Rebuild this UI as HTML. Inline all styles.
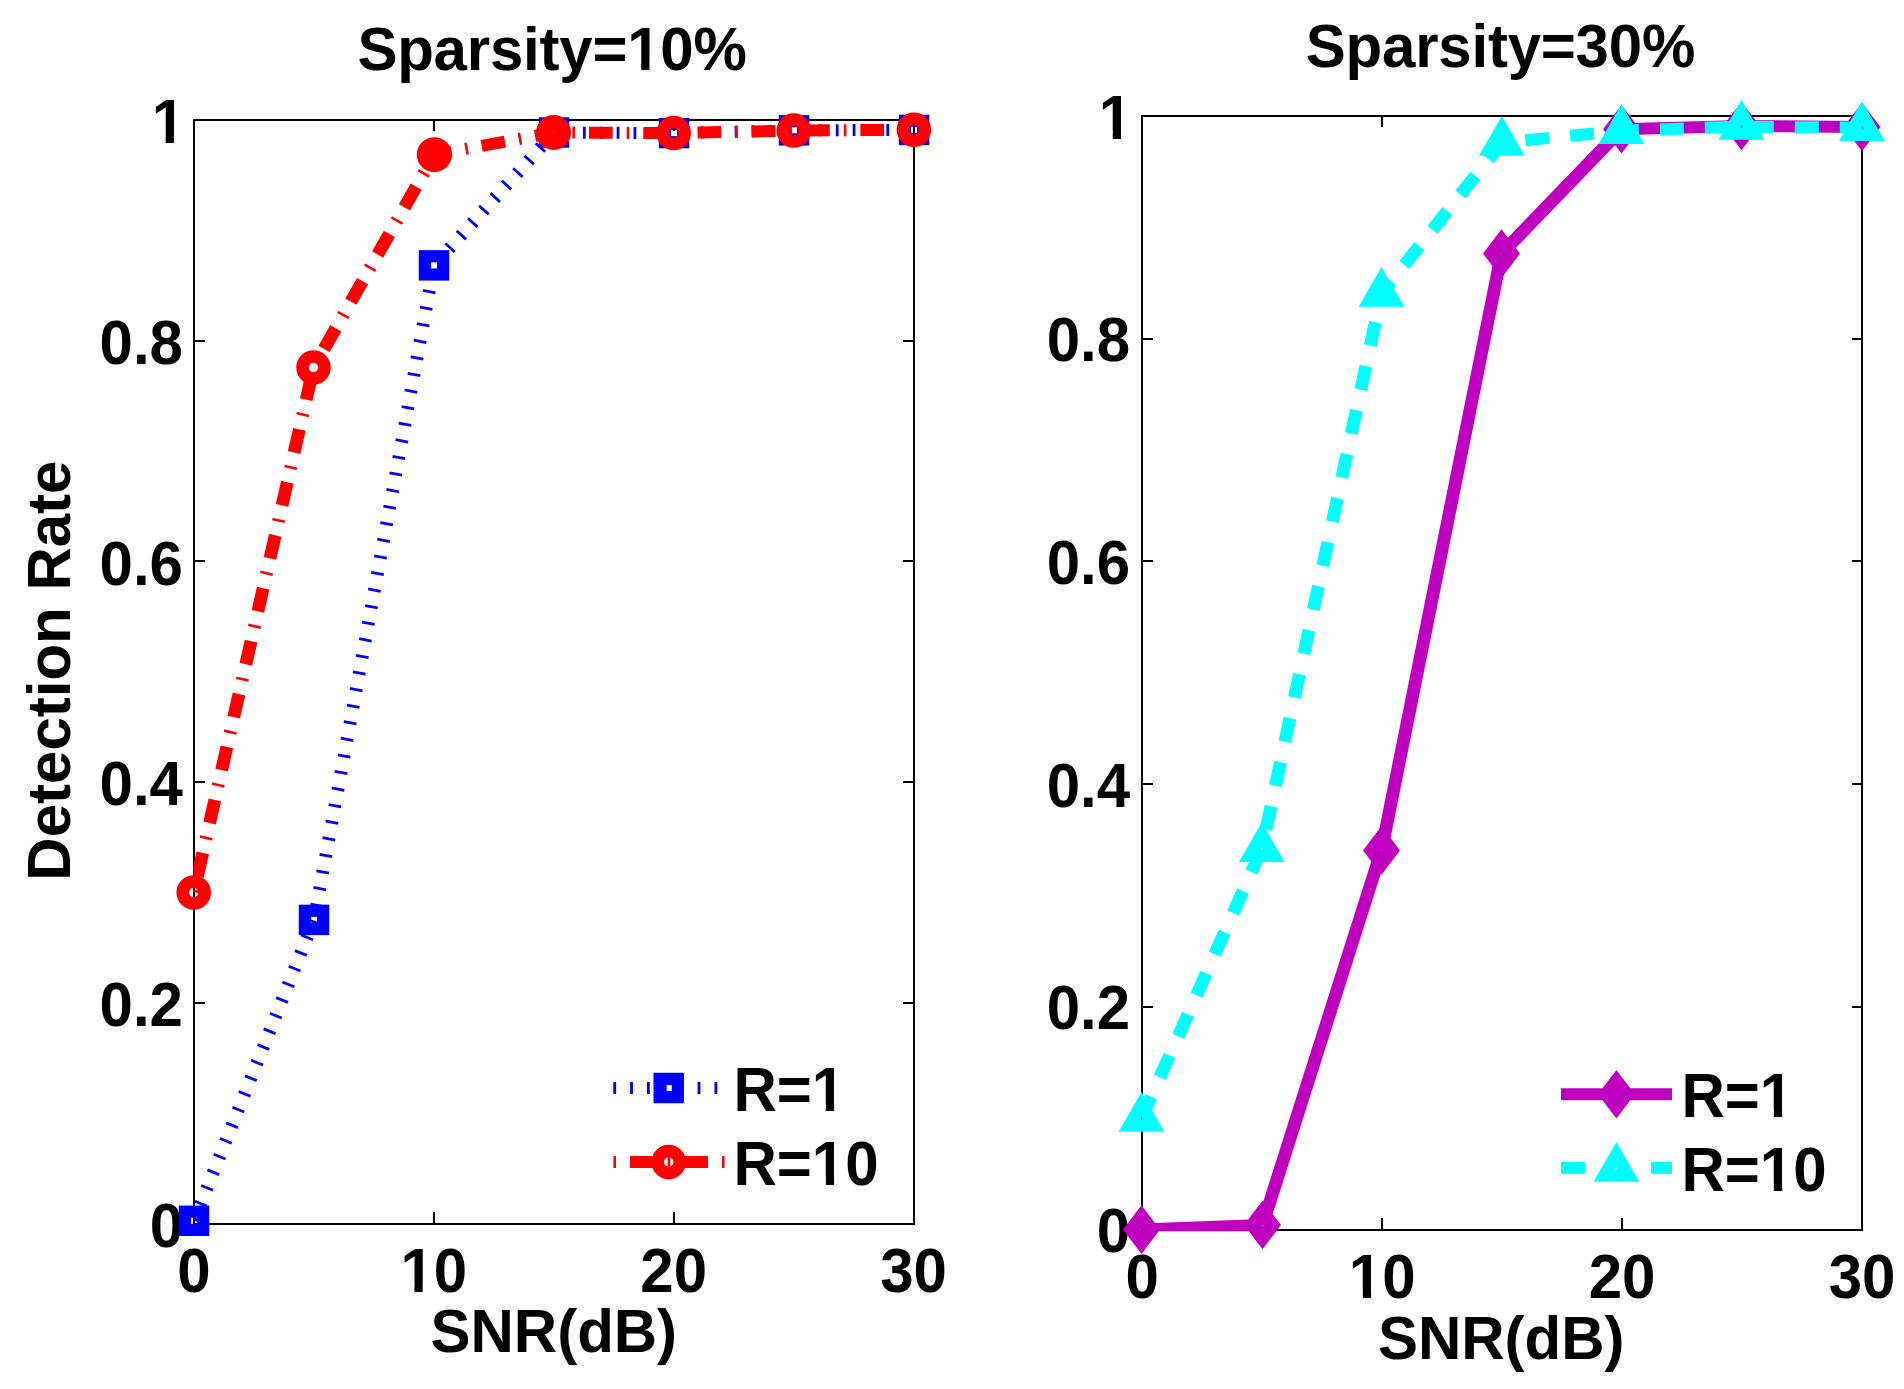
<!DOCTYPE html>
<html lang="en"><head><meta charset="utf-8"><title>Detection Rate vs SNR</title>
<style>
html,body{margin:0;padding:0;background:#fff;}
body{width:1904px;height:1389px;overflow:hidden;}
svg{display:block;}
text{font-kerning:none;font-family:"Liberation Sans",Arial,Helvetica,sans-serif;font-weight:bold;font-size:60px;fill:#000;}
.ax{stroke:#000;stroke-width:2;fill:none;shape-rendering:crispEdges;}
.ln{fill:none;stroke-linecap:butt;}
.mk{fill:none;stroke-width:12.5;stroke-linejoin:miter;}
</style></head><body>
<svg width="1904" height="1389" viewBox="0 0 1904 1389">
<rect x="0" y="0" width="1904" height="1389" fill="#ffffff"/>
<defs><clipPath id="cl"><rect x="193.5" y="118.8" width="721.5" height="1105.7"/></clipPath><clipPath id="cr"><rect x="1141.8" y="115" width="721.7" height="1116.2"/></clipPath></defs>
<g id="left">
<g class="ax">
<rect x="194.0" y="119.8" width="719.5" height="1103.7"/>
<line x1="433.8" y1="1223.5" x2="433.8" y2="1212.1"/>
<line x1="433.8" y1="119.8" x2="433.8" y2="131.2"/>
<line x1="673.7" y1="1223.5" x2="673.7" y2="1212.1"/>
<line x1="673.7" y1="119.8" x2="673.7" y2="131.2"/>
<line x1="194.0" y1="1002.8" x2="204.5" y2="1002.8"/>
<line x1="913.5" y1="1002.8" x2="903.0" y2="1002.8"/>
<line x1="194.0" y1="782.0" x2="204.5" y2="782.0"/>
<line x1="913.5" y1="782.0" x2="903.0" y2="782.0"/>
<line x1="194.0" y1="561.3" x2="204.5" y2="561.3"/>
<line x1="913.5" y1="561.3" x2="903.0" y2="561.3"/>
<line x1="194.0" y1="340.5" x2="204.5" y2="340.5"/>
<line x1="913.5" y1="340.5" x2="903.0" y2="340.5"/>
</g>
<g transform="translate(194.0 1291.9) scale(1 1.04)"><text text-anchor="middle">0</text></g>
<g transform="translate(433.8 1291.9) scale(1 1.04)"><text text-anchor="middle">10</text><rect x="-30.77" y="-7.3" width="11.40" height="8.1" fill="#fff"/><rect x="-11.13" y="-7.3" width="10.76" height="8.1" fill="#fff"/></g>
<g transform="translate(673.7 1291.9) scale(1 1.04)"><text text-anchor="middle">20</text></g>
<g transform="translate(913.5 1291.9) scale(1 1.04)"><text text-anchor="middle">30</text></g>
<g transform="translate(183.0 1246.9) scale(1 1.04)"><text text-anchor="end">0</text></g>
<g transform="translate(183.0 1026.2) scale(1 1.04)"><text text-anchor="end">0.2</text></g>
<g transform="translate(183.0 805.4) scale(1 1.04)"><text text-anchor="end">0.4</text></g>
<g transform="translate(183.0 584.7) scale(1 1.04)"><text text-anchor="end">0.6</text></g>
<g transform="translate(183.0 363.9) scale(1 1.04)"><text text-anchor="end">0.8</text></g>
<g transform="translate(185.0 143.2) scale(1 1.04)"><text text-anchor="end">1</text><rect x="-30.77" y="-7.3" width="11.40" height="8.1" fill="#fff"/><rect x="-11.13" y="-7.3" width="10.76" height="8.1" fill="#fff"/></g>
<g transform="translate(552.0 70.4) scale(1 1.01)"><text text-anchor="middle" style="letter-spacing:-0.22px">Sparsity=10%</text><rect x="77.80" y="-7.3" width="11.40" height="8.1" fill="#fff"/><rect x="97.44" y="-7.3" width="10.76" height="8.1" fill="#fff"/></g>
<g transform="translate(553.8 1352.0) scale(1 1.02)"><text text-anchor="middle">SNR(dB)</text></g>
<g transform="translate(70.0 670.6) rotate(-90) scale(1 1.01)"><text text-anchor="middle">Detection Rate</text></g>
<g class="ln" stroke="#0000ff" clip-path="url(#cl)">
<line x1="194.0" y1="1220.8" x2="314.0" y2="919.9" stroke-width="12.8" stroke-dasharray="2.8 14.06" stroke-dashoffset="16.56"/>
<line x1="314.0" y1="919.9" x2="434.0" y2="265.4" stroke-width="12.8" stroke-dasharray="2.8 14.06" stroke-dashoffset="340.51"/>
<line x1="434.0" y1="265.4" x2="554.0" y2="132.5" stroke-width="12.8" stroke-dasharray="2.8 14.06" stroke-dashoffset="1005.92"/>
<line x1="554.0" y1="132.5" x2="674.0" y2="133.1" stroke-width="12.0" stroke-dasharray="2.8 14.06" stroke-dashoffset="1184.98"/>
<line x1="674.0" y1="133.1" x2="794.0" y2="130.3" stroke-width="12.0" stroke-dasharray="2.8 14.06" stroke-dashoffset="1304.98"/>
<line x1="794.0" y1="130.3" x2="914.0" y2="129.9" stroke-width="12.0" stroke-dasharray="2.8 14.06" stroke-dashoffset="1425.01"/>
</g>
<rect class="mk" x="184.88" y="1211.67" width="18.25" height="18.25" stroke="#0000ff" style="stroke-width:12.2"/>
<rect class="mk" x="304.88" y="910.77" width="18.25" height="18.25" stroke="#0000ff" style="stroke-width:12.2"/>
<rect class="mk" x="424.88" y="256.27" width="18.25" height="18.25" stroke="#0000ff" style="stroke-width:12.2"/>
<rect class="mk" x="544.88" y="123.38" width="18.25" height="18.25" stroke="#0000ff" style="stroke-width:12.2"/>
<rect class="mk" x="664.88" y="123.97" width="18.25" height="18.25" stroke="#0000ff" style="stroke-width:12.2"/>
<rect class="mk" x="784.88" y="121.18" width="18.25" height="18.25" stroke="#0000ff" style="stroke-width:12.2"/>
<rect class="mk" x="904.88" y="120.78" width="18.25" height="18.25" stroke="#0000ff" style="stroke-width:12.2"/>
<g class="ln" stroke="#ff0000" clip-path="url(#cl)">
<line x1="193.7" y1="892.5" x2="313.5" y2="367.5" stroke-width="12.8" stroke-dasharray="2.6 13.97 23.75 13.97" stroke-dashoffset="53.89"/>
<line x1="313.5" y1="367.5" x2="434.3" y2="154.7" stroke-width="12.8" stroke-dasharray="2.6 13.97 23.75 13.97" stroke-dashoffset="592.39"/>
<line x1="434.3" y1="154.7" x2="553.5" y2="132.5" stroke-width="12.0" stroke-dasharray="2.6 13.97 23.75 13.97" stroke-dashoffset="837.08"/>
<line x1="553.5" y1="132.5" x2="673.7" y2="133.1" stroke-width="12.0" stroke-dasharray="2.6 13.97 23.75 13.97" stroke-dashoffset="958.33"/>
<line x1="673.7" y1="133.1" x2="793.7" y2="130.6" stroke-width="12.0" stroke-dasharray="2.6 13.97 23.75 13.97" stroke-dashoffset="1078.53"/>
<line x1="793.7" y1="130.6" x2="913.9" y2="129.7" stroke-width="12.0" stroke-dasharray="2.6 13.97 23.75 13.97" stroke-dashoffset="1198.56"/>
</g>
<circle class="mk" cx="193.70" cy="892.50" r="11" stroke="#ff0000" style="stroke-width:12.5"/>
<circle class="mk" cx="313.50" cy="367.50" r="11" stroke="#ff0000" style="stroke-width:12.5"/>
<circle class="mk" cx="434.30" cy="154.70" r="9.25" stroke="#ff0000" style="stroke-width:16.5"/>
<circle class="mk" cx="553.50" cy="132.50" r="9.25" stroke="#ff0000" style="stroke-width:16.5"/>
<circle class="mk" cx="673.70" cy="133.10" r="11" stroke="#ff0000" style="stroke-width:12.5"/>
<circle class="mk" cx="793.70" cy="130.60" r="11" stroke="#ff0000" style="stroke-width:12.5"/>
<circle class="mk" cx="913.90" cy="129.70" r="11" stroke="#ff0000" style="stroke-width:12.5"/>
<g class="ln" stroke="#0000ff">
<line x1="613.0" y1="1088.0" x2="718.5" y2="1088.0" stroke-width="12.0" stroke-dasharray="2.8 14.06" stroke-dashoffset="16.56"/>
</g>
<rect class="mk" x="659.58" y="1078.88" width="18.25" height="18.25" stroke="#0000ff" style="stroke-width:12.2"/>
<g class="ln" stroke="#ff0000">
<line x1="613.0" y1="1162.0" x2="724.5" y2="1162.0" stroke-width="12.0" stroke-dasharray="2.6 13.97 23.75 13.97" stroke-dashoffset="53.89"/>
</g>
<circle class="mk" cx="668.70" cy="1162.00" r="11" stroke="#ff0000" style="stroke-width:12.5"/>
<g transform="translate(733.5 1111.0) scale(1 1.04)"><text>R=1</text><rect x="80.97" y="-7.3" width="11.40" height="8.1" fill="#fff"/><rect x="100.61" y="-7.3" width="10.76" height="8.1" fill="#fff"/></g>
<g transform="translate(733.5 1185.0) scale(1 1.04)"><text>R=10</text><rect x="80.97" y="-7.3" width="11.40" height="8.1" fill="#fff"/><rect x="100.61" y="-7.3" width="10.76" height="8.1" fill="#fff"/></g>
</g>
<g id="right">
<g class="ax">
<rect x="1142.3" y="116.0" width="719.7" height="1113.5"/>
<line x1="1382.2" y1="1229.5" x2="1382.2" y2="1218.1"/>
<line x1="1382.2" y1="116.0" x2="1382.2" y2="127.4"/>
<line x1="1622.1" y1="1229.5" x2="1622.1" y2="1218.1"/>
<line x1="1622.1" y1="116.0" x2="1622.1" y2="127.4"/>
<line x1="1142.3" y1="1006.8" x2="1152.8" y2="1006.8"/>
<line x1="1862.0" y1="1006.8" x2="1851.5" y2="1006.8"/>
<line x1="1142.3" y1="784.1" x2="1152.8" y2="784.1"/>
<line x1="1862.0" y1="784.1" x2="1851.5" y2="784.1"/>
<line x1="1142.3" y1="561.4" x2="1152.8" y2="561.4"/>
<line x1="1862.0" y1="561.4" x2="1851.5" y2="561.4"/>
<line x1="1142.3" y1="338.7" x2="1152.8" y2="338.7"/>
<line x1="1862.0" y1="338.7" x2="1851.5" y2="338.7"/>
</g>
<g transform="translate(1142.3 1297.9) scale(1 1.04)"><text text-anchor="middle">0</text></g>
<g transform="translate(1382.2 1297.9) scale(1 1.04)"><text text-anchor="middle">10</text><rect x="-30.77" y="-7.3" width="11.40" height="8.1" fill="#fff"/><rect x="-11.13" y="-7.3" width="10.76" height="8.1" fill="#fff"/></g>
<g transform="translate(1622.1 1297.9) scale(1 1.04)"><text text-anchor="middle">20</text></g>
<g transform="translate(1862.0 1297.9) scale(1 1.04)"><text text-anchor="middle">30</text></g>
<g transform="translate(1130.1 1252.0) scale(1 1.04)"><text text-anchor="end">0</text></g>
<g transform="translate(1130.1 1029.3) scale(1 1.04)"><text text-anchor="end">0.2</text></g>
<g transform="translate(1130.1 806.6) scale(1 1.04)"><text text-anchor="end">0.4</text></g>
<g transform="translate(1130.1 583.9) scale(1 1.04)"><text text-anchor="end">0.6</text></g>
<g transform="translate(1130.1 361.2) scale(1 1.04)"><text text-anchor="end">0.8</text></g>
<g transform="translate(1132.1 138.5) scale(1 1.04)"><text text-anchor="end">1</text><rect x="-30.77" y="-7.3" width="11.40" height="8.1" fill="#fff"/><rect x="-11.13" y="-7.3" width="10.76" height="8.1" fill="#fff"/></g>
<g transform="translate(1500.4 66.9) scale(1 1.01)"><text text-anchor="middle" style="letter-spacing:-0.22px">Sparsity=30%</text></g>
<g transform="translate(1501.2 1359.0) scale(1 1.02)"><text text-anchor="middle">SNR(dB)</text></g>
<g class="ln" stroke="#bf00bf" clip-path="url(#cr)">
<line x1="1141.5" y1="1229.6" x2="1262.5" y2="1225.0" stroke-width="12.0"/>
<line x1="1262.5" y1="1225.0" x2="1381.5" y2="850.4" stroke-width="12.8"/>
<line x1="1381.5" y1="850.4" x2="1501.5" y2="253.6" stroke-width="12.8"/>
<line x1="1501.5" y1="253.6" x2="1621.5" y2="129.3" stroke-width="12.8"/>
<line x1="1621.5" y1="129.3" x2="1741.5" y2="126.0" stroke-width="12.0"/>
<line x1="1741.5" y1="126.0" x2="1862.0" y2="127.0" stroke-width="12.0"/>
</g>
<polygon class="mk" points="1141.50,1216.79 1151.25,1229.60 1141.50,1242.41 1131.75,1229.60" stroke="#bf00bf" style="stroke-width:13.93"/>
<polygon class="mk" points="1262.50,1212.19 1272.25,1225.00 1262.50,1237.81 1252.75,1225.00" stroke="#bf00bf" style="stroke-width:13.93"/>
<polygon class="mk" points="1381.50,837.59 1391.25,850.40 1381.50,863.21 1371.75,850.40" stroke="#bf00bf" style="stroke-width:13.93"/>
<polygon class="mk" points="1501.50,240.79 1511.25,253.60 1501.50,266.41 1491.75,253.60" stroke="#bf00bf" style="stroke-width:13.93"/>
<polygon class="mk" points="1621.50,116.49 1631.25,129.30 1621.50,142.11 1611.75,129.30" stroke="#bf00bf" style="stroke-width:13.93"/>
<polygon class="mk" points="1741.50,113.19 1751.25,126.00 1741.50,138.81 1731.75,126.00" stroke="#bf00bf" style="stroke-width:13.93"/>
<polygon class="mk" points="1862.00,114.19 1871.75,127.00 1862.00,139.81 1852.25,127.00" stroke="#bf00bf" style="stroke-width:13.93"/>
<g class="ln" stroke="#00ffff" clip-path="url(#cr)">
<line x1="1141.5" y1="1118.5" x2="1261.8" y2="848.7" stroke-width="12.8" stroke-dasharray="24 21" stroke-dashoffset="0.00"/>
<line x1="1261.8" y1="848.7" x2="1381.5" y2="293.6" stroke-width="12.8" stroke-dasharray="24 21" stroke-dashoffset="295.41"/>
<line x1="1381.5" y1="293.6" x2="1501.8" y2="142.6" stroke-width="12.8" stroke-dasharray="24 21" stroke-dashoffset="863.26"/>
<line x1="1501.8" y1="142.6" x2="1621.5" y2="130.7" stroke-width="12.0" stroke-dasharray="24 21" stroke-dashoffset="1056.33"/>
<line x1="1621.5" y1="130.7" x2="1741.5" y2="126.6" stroke-width="12.0" stroke-dasharray="24 21" stroke-dashoffset="1176.62"/>
<line x1="1741.5" y1="126.6" x2="1862.0" y2="127.8" stroke-width="12.0" stroke-dasharray="24 21" stroke-dashoffset="1296.69"/>
</g>
<polygon class="mk" points="1141.50,1104.50 1153.62,1125.50 1129.38,1125.50" stroke="#00ffff"/>
<polygon class="mk" points="1261.80,834.70 1273.92,855.70 1249.68,855.70" stroke="#00ffff"/>
<polygon class="mk" points="1381.50,279.60 1393.62,300.60 1369.38,300.60" stroke="#00ffff"/>
<polygon class="mk" points="1501.80,128.60 1513.92,149.60 1489.68,149.60" stroke="#00ffff"/>
<polygon class="mk" points="1621.50,116.70 1633.62,137.70 1609.38,137.70" stroke="#00ffff"/>
<polygon class="mk" points="1741.50,112.60 1753.62,133.60 1729.38,133.60" stroke="#00ffff"/>
<polygon class="mk" points="1862.00,113.80 1874.12,134.80 1849.88,134.80" stroke="#00ffff"/>
<g class="ln" stroke="#bf00bf">
<line x1="1561.0" y1="1094.2" x2="1672.0" y2="1094.2" stroke-width="12.0"/>
</g>
<polygon class="mk" points="1616.40,1081.49 1626.15,1094.30 1616.40,1107.11 1606.65,1094.30" stroke="#bf00bf" style="stroke-width:13.93"/>
<g class="ln" stroke="#00ffff">
<line x1="1561.0" y1="1167.8" x2="1585.0" y2="1167.8" stroke-width="12.0"/>
</g>
<g class="ln" stroke="#00ffff">
<line x1="1651.0" y1="1167.8" x2="1672.0" y2="1167.8" stroke-width="12.0"/>
</g>
<polygon class="mk" points="1616.40,1154.40 1628.52,1175.40 1604.28,1175.40" stroke="#00ffff"/>
<g transform="translate(1681.5 1117.0) scale(1 1.04)"><text>R=1</text><rect x="80.97" y="-7.3" width="11.40" height="8.1" fill="#fff"/><rect x="100.61" y="-7.3" width="10.76" height="8.1" fill="#fff"/></g>
<g transform="translate(1681.5 1191.0) scale(1 1.04)"><text>R=10</text><rect x="80.97" y="-7.3" width="11.40" height="8.1" fill="#fff"/><rect x="100.61" y="-7.3" width="10.76" height="8.1" fill="#fff"/></g>
</g>
</svg>
</body></html>
